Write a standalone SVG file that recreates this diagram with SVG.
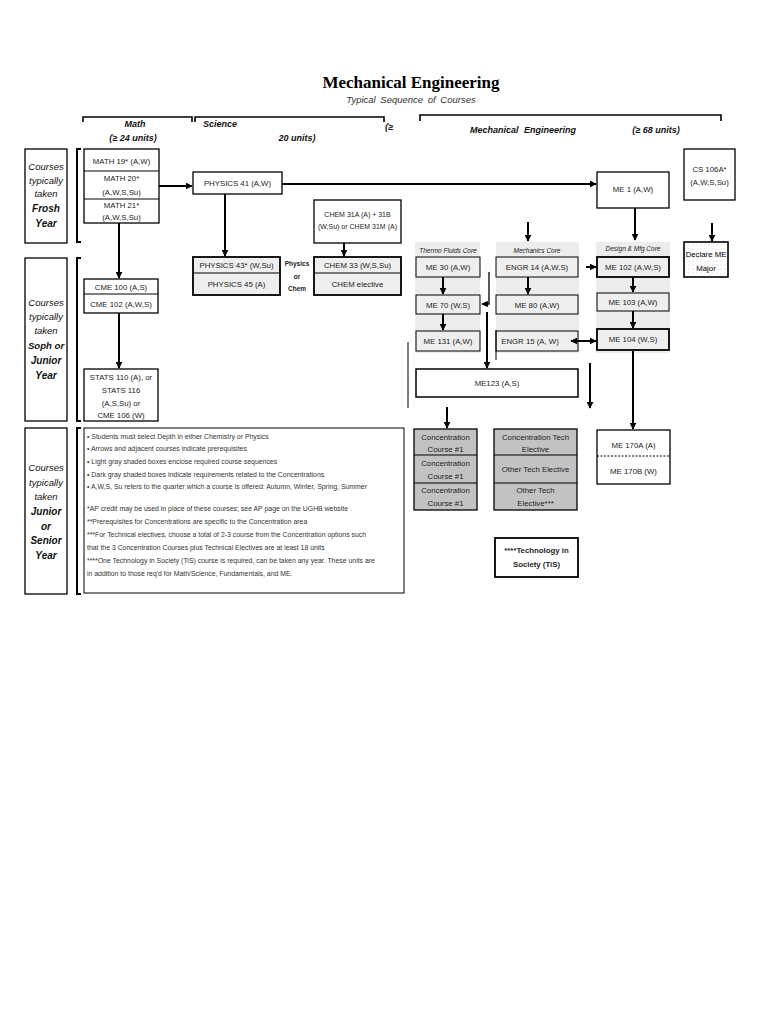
<svg xmlns="http://www.w3.org/2000/svg" width="768" height="1024" viewBox="0 0 768 1024">
<defs>
  <marker id="ah" viewBox="0 0 10 10" refX="9" refY="5" markerWidth="3.5" markerHeight="3.5" orient="auto-start-reverse">
    <path d="M0,0 L10,5 L0,10 z" fill="#000"/>
  </marker>
  <marker id="ahs" viewBox="0 0 10 10" refX="9" refY="5" markerWidth="5" markerHeight="5" orient="auto-start-reverse">
    <path d="M0,0 L10,5 L0,10 z" fill="#000"/>
  </marker>
  <pattern id="dots" width="4" height="4" patternUnits="userSpaceOnUse">
    <rect width="4" height="4" fill="#fff"/>
    <circle cx="1" cy="1" r="0.45" fill="#999"/>
  </pattern>
</defs>
<style>
  text { font-family: "Liberation Sans", Arial, sans-serif; fill: #222; }
  .c { text-anchor: middle; font-size: 7.8px; }
  .bx { fill: #fff; stroke: #000; stroke-width: 1; }
  .bxk { fill: #fff; stroke: #000; stroke-width: 1.8; }
  .lg { fill: #eeeeee; stroke: #000; stroke-width: 1; }
  .lgk { fill: #eeeeee; stroke: #000; stroke-width: 1.8; }
  .dg { fill: #c2c2c2; stroke: #000; stroke-width: 1.3; }
  .core { fill: #ececec; stroke: none; }
  .div { stroke: #000; stroke-width: 1; }
  .lbl { text-anchor: middle; font-size: 9.5px; font-style: italic; fill: #111; }
  .lblb { text-anchor: middle; font-size: 10px; font-style: italic; font-weight: bold; fill: #111; }
  .hd { font-size: 9px; font-style: italic; font-weight: bold; fill: #111; }
  .brk { fill: none; stroke: #000; stroke-width: 1.6; }
  .rb { fill: none; stroke: #000; stroke-width: 2; }
  .ar { fill: none; stroke: #000; stroke-width: 2; marker-end: url(#ah); }
  .thin { fill: none; stroke: #000; stroke-width: 1; }
  .cl { text-anchor: middle; font-size: 6.5px; font-style: italic; fill: #222; }
  .nt { font-size: 6.9px; fill: #333; }
</style>

<g id="title">
  <text x="411" y="88" text-anchor="middle" style="font-family:'Liberation Serif','Times New Roman',serif;font-weight:bold;font-size:17px;fill:#000">Mechanical Engineering</text>
  <text x="411" y="103" text-anchor="middle" style="font-size:9.5px;font-style:italic;word-spacing:2px;fill:#333">Typical Sequence of Courses</text>
</g>

<g id="header-math">
  <path class="brk" d="M83,122 V117 H192 V122"/>
  <text class="hd" x="135" y="127" text-anchor="middle">Math</text>
  <text class="hd" x="133" y="141" text-anchor="middle">(≥ 24 units)</text>
</g>
<g id="header-science">
  <path class="brk" d="M195,122 V117 H384 V122"/>
  <text class="hd" x="203" y="127">Science</text>
  <text class="hd" x="297" y="141" text-anchor="middle">20 units)</text>
  <text class="hd" x="385" y="130">(≥</text>
</g>
<g id="header-me">
  <path class="brk" d="M420,121 V115 H721 V121"/>
  <text class="hd" x="523" y="133" text-anchor="middle" style="word-spacing:3px">Mechanical Engineering</text>
  <text class="hd" x="656" y="133" text-anchor="middle">(≥ 68 units)</text>
</g>

<g id="row-frosh">
  <rect x="25" y="149" width="42" height="94" fill="#fff" stroke="#000" stroke-width="1.3"/>
  <path class="rb" d="M81,149 H77 V242 H81"/>
  <text class="lbl" x="46" y="170">Courses</text>
  <text class="lbl" x="46" y="184">typically</text>
  <text class="lbl" x="46" y="197">taken</text>
  <text class="lblb" x="46" y="212">Frosh</text>
  <text class="lblb" x="46" y="227">Year</text>
</g>
<g id="row-soph">
  <rect x="25" y="258" width="42" height="163" fill="#fff" stroke="#000" stroke-width="1.3"/>
  <path class="rb" d="M81,258 H77 V421 H81"/>
  <text class="lbl" x="46" y="306">Courses</text>
  <text class="lbl" x="46" y="320">typically</text>
  <text class="lbl" x="46" y="334">taken</text>
  <text class="lblb" x="46" y="349" style="font-size:9.6px">Soph or</text>
  <text class="lblb" x="46" y="364">Junior</text>
  <text class="lblb" x="46" y="379">Year</text>
</g>
<g id="row-senior">
  <rect x="25" y="428" width="42" height="166" fill="#fff" stroke="#000" stroke-width="1.3"/>
  <path class="rb" d="M81,428 H77 V594 H81"/>
  <text class="lbl" x="46" y="471">Courses</text>
  <text class="lbl" x="46" y="486">typically</text>
  <text class="lbl" x="46" y="500">taken</text>
  <text class="lblb" x="46" y="515">Junior</text>
  <text class="lblb" x="46" y="530">or</text>
  <text class="lblb" x="46" y="544">Senior</text>
  <text class="lblb" x="46" y="559">Year</text>
</g>

<g id="math-seq">
  <rect class="bxk" x="84" y="149" width="75" height="74" style="stroke-width:1.3"/>
  <line class="div" x1="84" y1="171" x2="159" y2="171"/>
  <line class="div" x1="84" y1="199" x2="159" y2="199"/>
  <text class="c" x="121.5" y="164">MATH 19* (A,W)</text>
  <text class="c" x="121.5" y="181">MATH 20*</text>
  <text class="c" x="121.5" y="195">(A,W,S,Su)</text>
  <text class="c" x="121.5" y="208">MATH 21*</text>
  <text class="c" x="121.5" y="220">(A,W,S,Su)</text>
</g>
<g id="cme">
  <rect class="bx" x="84" y="279" width="74" height="34" style="stroke-width:1.3"/>
  <line class="div" x1="84" y1="294" x2="158" y2="294"/>
  <text class="c" x="121" y="290">CME 100 (A,S)</text>
  <text class="c" x="121" y="307">CME 102 (A,W,S)</text>
</g>
<g id="stats">
  <rect class="bx" x="84" y="369" width="74" height="52" style="stroke-width:1.3"/>
  <text class="c" x="121" y="380">STATS 110 (A), or</text>
  <text class="c" x="121" y="393">STATS 116</text>
  <text class="c" x="121" y="406">(A,S,Su) or</text>
  <text class="c" x="121" y="418">CME 106 (W)</text>
</g>

<g id="physics41">
  <rect class="bx" x="193" y="172" width="89" height="22" style="stroke-width:1.3"/>
  <text class="c" x="237.5" y="186">PHYSICS 41 (A,W)</text>
</g>
<g id="physics43">
  <rect class="lgk" x="193" y="257" width="87" height="38"/>
  <line class="div" x1="193" y1="273" x2="280" y2="273"/>
  <text class="c" x="236.5" y="268">PHYSICS 43* (W,Su)</text>
  <text class="c" x="236.5" y="287">PHYSICS 45 (A)</text>
</g>
<g id="physics-or-chem">
  <text x="297" y="266" text-anchor="middle" style="font-size:6.5px;font-weight:bold">Physics</text>
  <text x="297" y="279" text-anchor="middle" style="font-size:6.5px;font-weight:bold">or</text>
  <text x="297" y="291" text-anchor="middle" style="font-size:6.5px;font-weight:bold">Chem</text>
</g>
<g id="chem31">
  <rect class="bx" x="314" y="200" width="87" height="43" style="stroke-width:1.3"/>
  <text class="c" x="357.5" y="217" style="font-size:7px">CHEM 31A (A) + 31B</text>
  <text class="c" x="357.5" y="229" style="font-size:7px">(W,Su) or CHEM 31M (A)</text>
</g>
<g id="chem33">
  <rect class="lgk" x="314" y="257" width="87" height="38"/>
  <line class="div" x1="314" y1="273" x2="401" y2="273"/>
  <text class="c" x="357.5" y="268">CHEM 33 (W,S,Su)</text>
  <text class="c" x="357.5" y="287">CHEM elective</text>
</g>

<g id="me1">
  <rect class="bx" x="597" y="172" width="72" height="36" style="stroke-width:1.3"/>
  <text class="c" x="633" y="192">ME 1 (A,W)</text>
</g>
<g id="cs106a">
  <rect class="bx" x="684" y="149" width="51" height="51" style="stroke-width:1.3"/>
  <text class="c" x="709.5" y="172">CS 106A*</text>
  <text class="c" x="709.5" y="185">(A,W,S,Su)</text>
</g>
<g id="declare">
  <rect x="684" y="242" width="44" height="35" fill="url(#dots)" stroke="#000" stroke-width="1.6"/>
  <text class="c" x="706" y="257" style="fill:#000">Declare ME</text>
  <text class="c" x="706" y="271" style="fill:#000">Major</text>
</g>

<g id="thermo-core">
  <rect class="core" x="415" y="242" width="65" height="111"/>
  <text class="cl" x="448" y="253">Thermo Fluids Core</text>
  <rect class="lg" x="416" y="257" width="64" height="20"/>
  <text class="c" x="448" y="270">ME 30 (A,W)</text>
  <rect class="lg" x="416" y="295" width="64" height="19"/>
  <text class="c" x="448" y="307.5">ME 70 (W,S)</text>
  <rect class="lg" x="416" y="331" width="64" height="20"/>
  <text class="c" x="448" y="344">ME 131 (A,W)</text>
</g>
<g id="mechanics-core">
  <rect class="core" x="496" y="242" width="83" height="111"/>
  <text class="cl" x="537" y="253">Mechanics Core</text>
  <rect class="lg" x="496" y="257" width="82" height="20"/>
  <text class="c" x="537" y="270">ENGR 14 (A,W,S)</text>
  <rect class="lg" x="496" y="295" width="82" height="19"/>
  <text class="c" x="537" y="307.5">ME 80 (A,W)</text>
  <rect class="lg" x="496" y="331" width="82" height="20"/>
  <text class="c" x="530" y="344">ENGR 15 (A, W)</text>
</g>
<g id="design-core">
  <rect class="core" x="596" y="242" width="74" height="111"/>
  <text class="cl" x="633" y="251">Design &amp; Mfg Core</text>
  <rect class="lgk" x="597" y="257" width="72" height="20"/>
  <text class="c" x="633" y="270">ME 102 (A,W,S)</text>
  <rect class="lg" x="597" y="293" width="72" height="18"/>
  <text class="c" x="633" y="305">ME 103 (A,W)</text>
  <rect class="lgk" x="597" y="329" width="72" height="21"/>
  <text class="c" x="633" y="342">ME 104 (W,S)</text>
</g>

<g id="me123">
  <rect class="bx" x="416" y="369" width="162" height="28" style="stroke-width:1.5"/>
  <text class="c" x="497" y="386">ME123 (A,S)</text>
</g>

<g id="concentration">
  <rect class="dg" x="414" y="429" width="63" height="81"/>
  <line class="div" x1="414" y1="455" x2="477" y2="455"/>
  <line class="div" x1="414" y1="483" x2="477" y2="483"/>
  <text class="c" x="445.5" y="440">Concentration</text>
  <text class="c" x="445.5" y="452">Course #1</text>
  <text class="c" x="445.5" y="466">Concentration</text>
  <text class="c" x="445.5" y="479">Course #1</text>
  <text class="c" x="445.5" y="493">Concentration</text>
  <text class="c" x="445.5" y="506">Course #1</text>
</g>
<g id="tech-electives">
  <rect class="dg" x="494" y="429" width="83" height="81"/>
  <line class="div" x1="494" y1="455" x2="577" y2="455"/>
  <line class="div" x1="494" y1="483" x2="577" y2="483"/>
  <text class="c" x="535.5" y="440">Concentration Tech</text>
  <text class="c" x="535.5" y="452">Elective</text>
  <text class="c" x="535.5" y="472">Other Tech Elective</text>
  <text class="c" x="535.5" y="493">Other Tech</text>
  <text class="c" x="535.5" y="506">Elective***</text>
</g>
<g id="me170">
  <rect class="bx" x="597" y="430" width="73" height="54" style="stroke-width:1.3"/>
  <line x1="597" y1="456" x2="670" y2="456" stroke="#000" stroke-width="1" stroke-dasharray="2,1.5"/>
  <text class="c" x="633.5" y="448">ME 170A (A)</text>
  <text class="c" x="633.5" y="474">ME 170B (W)</text>
</g>
<g id="tis">
  <rect class="bx" x="495" y="538" width="83" height="39" style="stroke-width:1.8"/>
  <text class="c" x="536.5" y="553" style="font-weight:bold">****Technology in</text>
  <text class="c" x="536.5" y="567" style="font-weight:bold">Society (TiS)</text>
</g>

<g id="notes">
  <rect x="84" y="428" width="320" height="165" fill="#fff" stroke="#000" stroke-width="1"/>
  <text class="nt" x="87" y="439">• Students must select Depth in either Chemistry or Physics</text>
  <text class="nt" x="87" y="451">• Arrows and adjacent courses indicate prerequisites</text>
  <text class="nt" x="87" y="464">• Light gray shaded boxes enclose required course sequences</text>
  <text class="nt" x="87" y="477">• Dark gray shaded boxes indicate requirements related to the Concentrations</text>
  <text class="nt" x="87" y="489">• A,W,S, Su refers to the quarter which a course is offered: Autumn, Winter, Spring, Summer</text>
  <text class="nt" x="87" y="511">*AP credit may be used in place of these courses; see AP page on the UGHB website</text>
  <text class="nt" x="87" y="524">**Prerequisites for Concentrations are specific to the Concentration area</text>
  <text class="nt" x="87" y="537">***For Technical electives, choose a total of 2-3 course from the Concentration options such</text>
  <text class="nt" x="87" y="550">that the 3 Concentration Courses plus Technical Electives are at least 18 units</text>
  <text class="nt" x="87" y="563">****One Technology in Society (TiS) course is required, can be taken any year. These units are</text>
  <text class="nt" x="87" y="576">in addition to those req'd for Math/Science, Fundamentals, and ME.</text>
</g>

<g id="connectors">
  <line class="ar" x1="119" y1="223" x2="119" y2="278"/>
  <line class="ar" x1="119" y1="313" x2="119" y2="368"/>
  <line class="ar" x1="159" y1="186" x2="192" y2="186"/>
  <line class="ar" x1="282" y1="184" x2="596" y2="184"/>
  <line class="ar" x1="225" y1="194" x2="225" y2="256"/>
  <line class="ar" x1="344" y1="243" x2="344" y2="256"/>
  <line class="ar" x1="712" y1="223" x2="712" y2="241"/>
  <line class="ar" x1="635" y1="208" x2="635" y2="240"/>
  <line class="ar" x1="528" y1="222" x2="528" y2="241"/>
  <line class="ar" x1="443" y1="277" x2="443" y2="294"/>
  <line class="ar" x1="443" y1="314" x2="443" y2="330"/>
  <line class="ar" x1="528" y1="277" x2="528" y2="294"/>
  <line class="ar" x1="633" y1="277" x2="633" y2="292"/>
  <line class="ar" x1="633" y1="311" x2="633" y2="328"/>
  <line class="ar" x1="586" y1="267" x2="596" y2="267"/>
  <line class="ar" x1="571" y1="341" x2="596" y2="341" style="marker-start:url(#ah)"/>
  <path class="thin" d="M489,272 V304 H482" style="stroke-width:1.3;marker-end:url(#ahs)"/>
  <line class="ar" x1="487" y1="312" x2="487" y2="368"/>
  <line class="thin" x1="496" y1="330" x2="496" y2="360"/>
  <line class="thin" x1="408" y1="342" x2="408" y2="408"/>
  <line class="ar" x1="590" y1="363" x2="590" y2="408"/>
  <line class="ar" x1="633" y1="351" x2="633" y2="429"/>
  <line class="ar" x1="447" y1="407" x2="447" y2="428"/>
</g>
</svg>
